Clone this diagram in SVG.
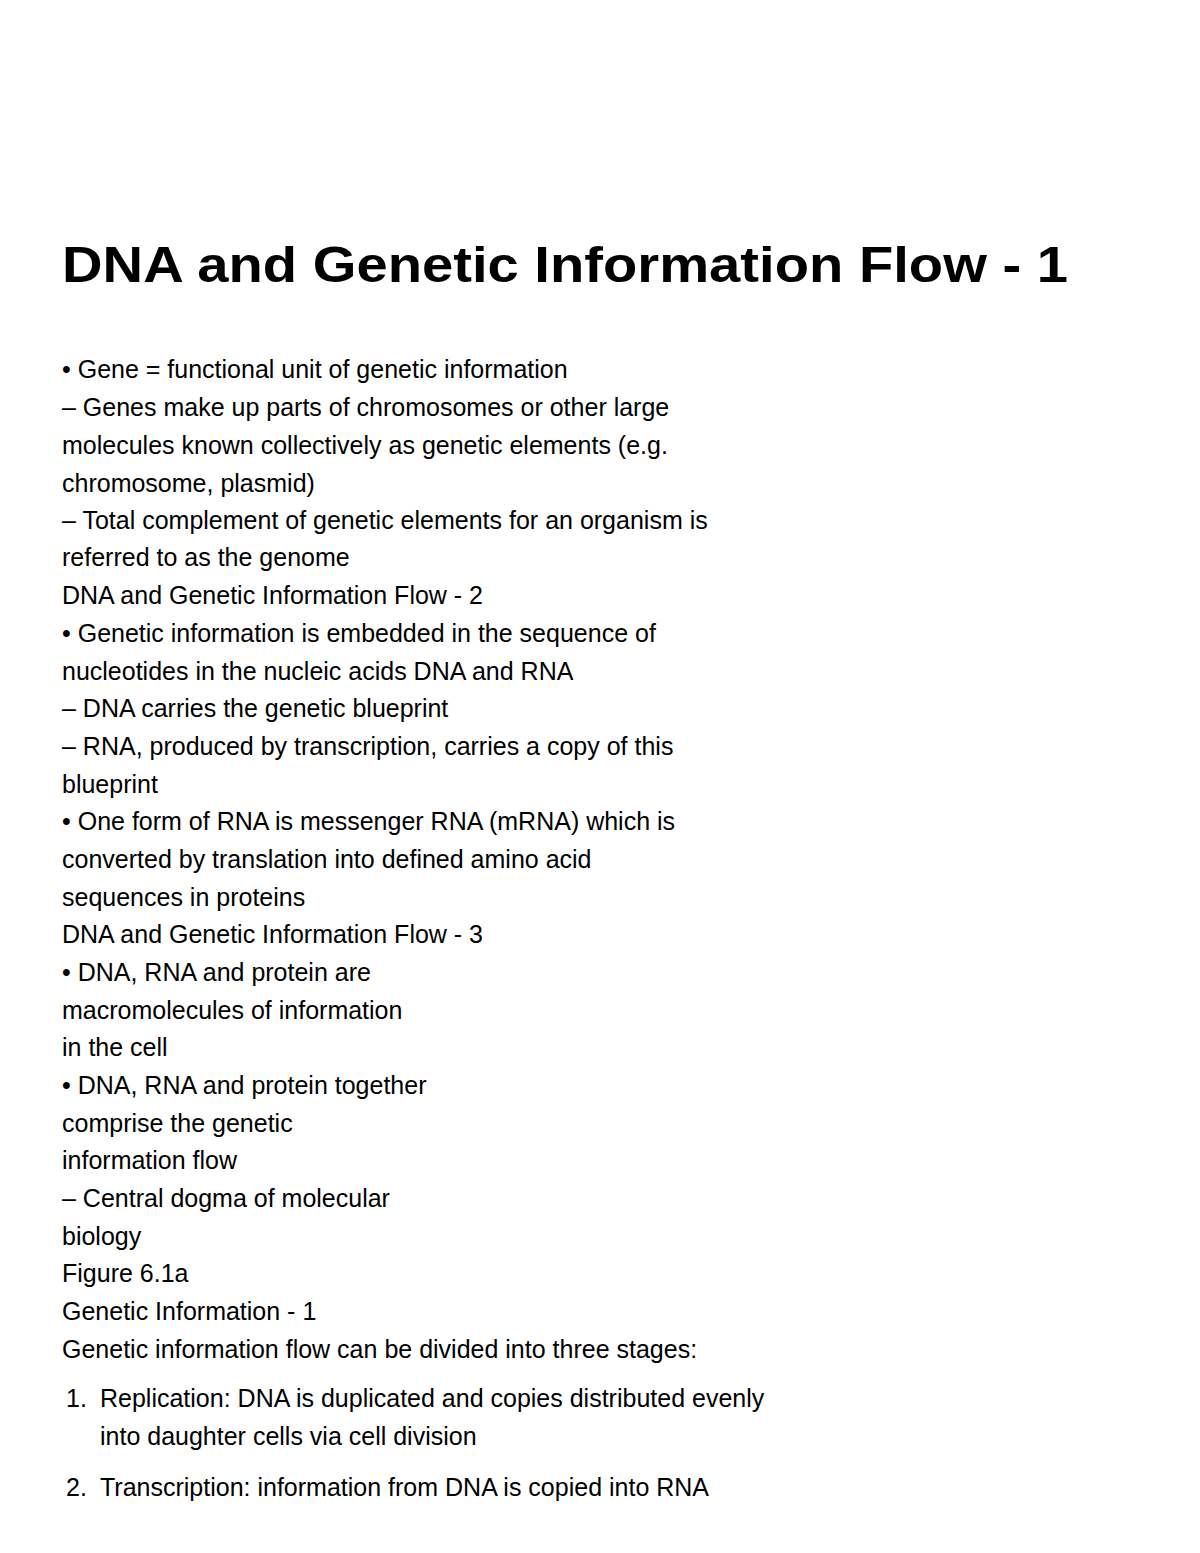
<svg xmlns="http://www.w3.org/2000/svg" width="1200" height="1553" viewBox="0 0 1200 1553">
<style>
text{font-family:"Liberation Sans",Arial,sans-serif;fill:#000}
.t{font-size:50px;font-weight:bold}
.b{font-size:25px}
</style>
<rect width="1200" height="1553" fill="#fff"/>
<text class="t" x="62" y="282" textLength="1006" lengthAdjust="spacingAndGlyphs">DNA and Genetic Information Flow - 1</text>
<g class="b">
<text x="62" y="378">• Gene = functional unit of genetic information</text>
<text x="62" y="416">– Genes make up parts of chromosomes or other large</text>
<text x="62" y="454">molecules known collectively as genetic elements (e.g.</text>
<text x="62" y="492">chromosome, plasmid)</text>
<text x="62" y="529">– Total complement of genetic elements for an organism is</text>
<text x="62" y="566">referred to as the genome</text>
<text x="62" y="604">DNA and Genetic Information Flow - 2</text>
<text x="62" y="642">• Genetic information is embedded in the sequence of</text>
<text x="62" y="680">nucleotides in the nucleic acids DNA and RNA</text>
<text x="62" y="717">– DNA carries the genetic blueprint</text>
<text x="62" y="755">– RNA, produced by transcription, carries a copy of this</text>
<text x="62" y="793">blueprint</text>
<text x="62" y="830">• One form of RNA is messenger RNA (mRNA) which is</text>
<text x="62" y="868">converted by translation into defined amino acid</text>
<text x="62" y="906">sequences in proteins</text>
<text x="62" y="943">DNA and Genetic Information Flow - 3</text>
<text x="62" y="981">• DNA, RNA and protein are</text>
<text x="62" y="1019">macromolecules of information</text>
<text x="62" y="1056">in the cell</text>
<text x="62" y="1094">• DNA, RNA and protein together</text>
<text x="62" y="1132">comprise the genetic</text>
<text x="62" y="1169">information flow</text>
<text x="62" y="1207">– Central dogma of molecular</text>
<text x="62" y="1245">biology</text>
<text x="62" y="1282">Figure 6.1a</text>
<text x="62" y="1320">Genetic Information - 1</text>
<text x="62" y="1358">Genetic information flow can be divided into three stages:</text>
<text x="66" y="1407">1.</text>
<text x="100" y="1407">Replication: DNA is duplicated and copies distributed evenly</text>
<text x="100" y="1445">into daughter cells via cell division</text>
<text x="66" y="1496">2.</text>
<text x="100" y="1496">Transcription: information from DNA is copied into RNA</text>
</g>
</svg>
